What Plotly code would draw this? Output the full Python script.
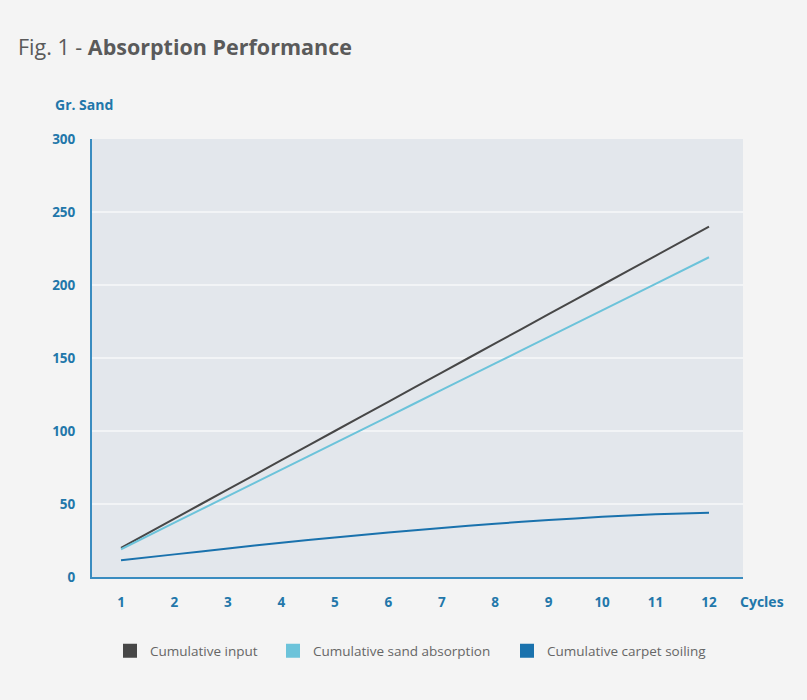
import plotly.graph_objects as go

cycles = [1, 2, 3, 4, 5, 6, 7, 8, 9, 10, 11, 12]
cumulative_input = [20, 40, 60, 80, 100, 120, 140, 160, 180, 200, 220, 240]
sand_absorption = [19, 37.2, 55.4, 73.5, 91.7, 109.9, 128.1, 146.3, 164.5, 182.6, 200.8, 219]
carpet_soiling = [11.5, 15.5, 19.5, 23.5, 27, 30.5, 33.5, 36.5, 39, 41.2, 43, 44]

series_names = ["Cumulative input", "Cumulative sand absorption", "Cumulative carpet soiling"]
series_colors = ["#474747", "#6cc3da", "#1a72ad"]
y_ticks = [0, 50, 100, 150, 200, 250, 300]

W, H = 807, 700
L, R, T, B = 92, 64, 139, 123
FONT = "Open Sans"
BLUE = "#2277aa"

fig = go.Figure()
for name, vals, col in zip(series_names, [cumulative_input, sand_absorption, carpet_soiling], series_colors):
    fig.add_trace(go.Scatter(x=cycles, y=vals, mode="lines", name=name,
                             line=dict(color=col, width=2, shape="spline", smoothing=0.6),
                             showlegend=False, hoverinfo="skip"))

# legend entries (square swatches), each in its own legend for placement
legend_px = [110, 273, 507]
legend_keys = ["legend", "legend2", "legend3"]
for name, col, key in zip(series_names, series_colors, legend_keys):
    fig.add_trace(go.Scatter(x=[None], y=[None], mode="markers", name=name,
                             marker=dict(symbol="square", size=14, color=col),
                             legend=key, showlegend=True))

plot_w = W - L - R
plot_h = H - T - B
legend_layout = {}
for key, px in zip(legend_keys, legend_px):
    legend_layout[key] = dict(x=(px - L) / plot_w, y=(577 - 651) / plot_h, xanchor="left", yanchor="middle",
                              bgcolor="rgba(0,0,0,0)", font=dict(family=FONT, size=13.5, color="#666666"),
                              orientation="h")

fig.update_layout(
    width=W, height=H,
    margin=dict(l=L, r=R, t=T, b=B),
    paper_bgcolor="#f4f4f4",
    plot_bgcolor="#e3e7ec",
    title=dict(text="Fig. 1 - <b>Absorption Performance</b>", x=18 / W, xref="container", xanchor="left",
               y=1 - 47 / H, yref="container", yanchor="middle",
               font=dict(family=FONT, size=21.5, color="#5a5a5a")),
    xaxis=dict(range=[0.457, 12.636], tickvals=cycles, ticktext=[str(c) for c in cycles],
               showgrid=False, zeroline=False, showline=True, linecolor="#3a8cc0", linewidth=2,
               ticks="", ticklabelstandoff=12,
               tickfont=dict(family=FONT, size=13.5, color=BLUE, weight="bold"), fixedrange=True),
    yaxis=dict(range=[0, 300], tickvals=y_ticks, showgrid=True, gridcolor="#f2f4f6", gridwidth=1.5,
               zeroline=False, showline=True, linecolor="#3a8cc0", linewidth=2,
               ticks="", ticklabelstandoff=12,
               tickfont=dict(family=FONT, size=13.5, color=BLUE, weight="bold"), fixedrange=True),
    showlegend=True,
    **legend_layout,
    annotations=[
        dict(text="<b>Gr. Sand</b>", xref="paper", yref="paper", x=(53 - L) / plot_w, y=(577 - 104) / plot_h,
             xanchor="left", yanchor="middle", showarrow=False, font=dict(family=FONT, size=14, color=BLUE)),
        dict(text="<b>Cycles</b>", xref="paper", yref="paper", x=(738 - L) / plot_w, y=(577 - 601) / plot_h,
             xanchor="left", yanchor="middle", showarrow=False, font=dict(family=FONT, size=14, color=BLUE)),
    ],
)

fig.write_html("out.html", config={"displayModeBar": False},
               post_script="document.body.style.margin='0';document.body.style.background='#f4f4f4';")
